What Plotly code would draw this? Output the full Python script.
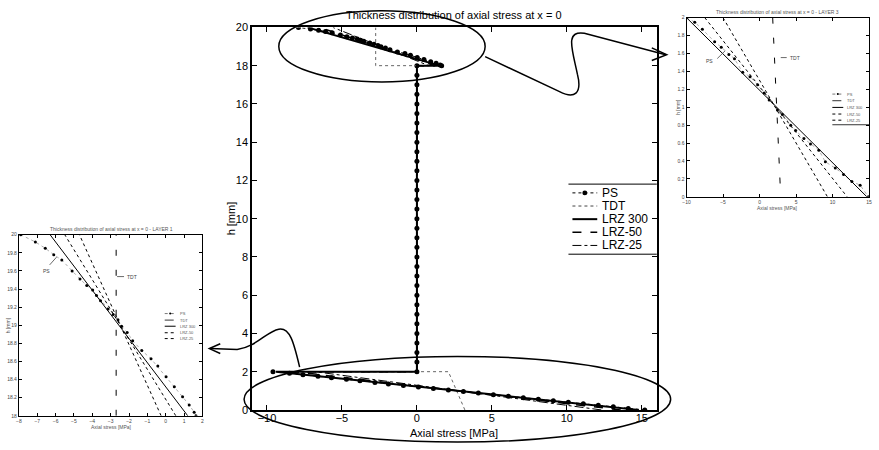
import plotly.graph_objects as go

W, H = 879, 450

# ---------------- main chart : whole section, h from 0 to 20 mm ----------------
# PS, bottom flange (h 0 -> 2)
ps_bot_h = [0.0, 0.08, 0.16, 0.24, 0.32, 0.40, 0.48, 0.56, 0.64, 0.72, 0.80, 0.88, 0.96,
            1.04, 1.12, 1.20, 1.28, 1.36, 1.44, 1.52, 1.60, 1.68, 1.76, 1.84, 1.92, 2.00]
ps_bot_s = [15.2, 14.1, 13.1, 12.1, 11.1, 10.1, 9.1, 8.1, 7.1, 6.1, 5.1, 4.1, 3.1,
            2.1, 1.1, 0.1, -0.9, -1.9, -2.8, -3.8, -4.7, -5.7, -6.6, -7.6, -8.5, -9.6]
# PS, web (h 2 -> 18)
ps_web_h = [2.0, 2.5, 3.0, 3.5, 4.0, 4.5, 5.0, 5.5, 6.0, 6.5, 7.0, 7.5, 8.0, 8.5, 9.0, 9.5, 10.0,
            10.5, 11.0, 11.5, 12.0, 12.5, 13.0, 13.5, 14.0, 14.5, 15.0, 15.5, 16.0, 16.5, 17.0, 17.5, 18.0]
ps_web_s = [0.0, 0.0, 0.0, 0.0, 0.0, 0.0, 0.0, 0.0, 0.0, 0.0, 0.0, 0.0, 0.0, 0.0, 0.0, 0.0, 0.0,
            0.0, 0.0, 0.0, 0.0, 0.0, 0.0, 0.0, 0.0, 0.0, 0.0, 0.0, 0.0, 0.0, 0.0, 0.0, 0.0]
# PS, top flange (h 18 -> 20)
ps_top_h = [18.00, 18.04, 18.12, 18.21, 18.32, 18.43, 18.55, 18.63, 18.72, 18.83, 18.92, 18.99, 19.06,
            19.12, 19.18, 19.27, 19.33, 19.39, 19.44, 19.51, 19.60, 19.72, 19.78, 19.85, 19.92, 20.00]
ps_top_s = [1.65, 1.55, 1.28, 0.92, 0.47, 0.02, -0.43, -0.80, -1.30, -1.80, -2.10, -2.40, -2.60,
            -2.86, -3.14, -3.55, -3.77, -3.98, -4.30, -4.67, -5.10, -5.66, -6.10, -6.56, -7.10, -7.90]

# other models, path bottom flange -> web -> top flange
path_h = [0.0, 2.0, 2.0, 18.0, 18.0, 20.0]
tdt_s = [3.2, 2.1, 0.0, 0.0, -2.75, -2.75]
lrz300_s = [14.8, -9.4, 0.0, 0.0, 1.5, -7.3]
lrz50_s = [13.6, -8.2, 0.0, 0.0, 1.2, -6.5]
lrz25_s = [12.3, -6.8, 0.0, 0.0, 0.8, -5.6]

# ---------------- right inset (zoom, h 0 -> 2) ----------------
r_ps_s = [-10.0, -8.87, -7.83, -6.15, -5.24, -4.2, -3.43, -2.3, -1.3, -0.26, 0.64, 1.32, 2.45,
          3.13, 4.27, 4.95, 6.08, 6.98, 8.12, 9.02, 10.38, 11.51, 12.65, 13.78, 14.9]
r_ps_h = [2.0, 1.95, 1.87, 1.73, 1.67, 1.59, 1.54, 1.39, 1.34, 1.25, 1.16, 1.08, 0.97,
          0.92, 0.80, 0.74, 0.65, 0.59, 0.52, 0.39, 0.32, 0.25, 0.17, 0.13, 0.0]
r_h = [2.0, 0.0]
r_tdt_s = [1.8, 2.9]
r_lrz300_s = [-10.0, 14.7]
r_lrz50_s = [-7.5, 12.0]
r_lrz25_s = [-5.0, 9.3]

# ---------------- left inset (zoom, h 18 -> 20) ----------------
l_h = [18.0, 20.0]
l_tdt_s = [-2.7, -2.7]
l_lrz300_s = [1.2, -6.3]
l_lrz50_s = [0.55, -5.5]
l_lrz25_s = [-0.25, -4.7]

legend_names = ["PS", "TDT", "LRZ 300", "LRZ-50", "LRZ-25"]


def px(x):
    return x / W


def py(y):
    return 1 - y / H


def path_px(cmds):
    # build an svg path in paper units from pixel points
    out = []
    for c in cmds:
        pts = c[1:]
        s = c[0]
        for i in range(0, len(pts), 2):
            s += "%.5f,%.5f " % (px(pts[i]), py(pts[i + 1]))
        out.append(s.strip())
    return " ".join(out)


fig = go.Figure()

FONT = "Liberation Sans, Arial, sans-serif"


def line(x, y, ax, dash, width, color="black", markers=False, msize=5):
    fig.add_trace(go.Scatter(
        x=x, y=y, xaxis=ax[0], yaxis=ax[1],
        mode="lines+markers" if markers else "lines",
        line=dict(color=color, dash=dash, width=width),
        marker=dict(color="black", size=msize, symbol="circle"),
        showlegend=False, hoverinfo="skip"))


main = ("x", "y")
line(ps_bot_s + ps_web_s + ps_top_s, ps_bot_h + ps_web_h + ps_top_h, main, "dot", 1, markers=True, msize=5)
line(tdt_s, path_h, main, "dot", 1, color="#666")
line(lrz300_s, path_h, main, "solid", 2)
line(lrz50_s, path_h, main, "dash", 1.5)
line(lrz25_s, path_h, main, "dashdot", 1)

rin = ("x2", "y2")
line(r_ps_s, r_ps_h, rin, "dot", 0.6, color="#777", markers=True, msize=3)
line(r_tdt_s, r_h, rin, "6px,14px", 1)
line(r_lrz300_s, r_h, rin, "solid", 1)
line(r_lrz50_s, r_h, rin, "dot", 1)
line(r_lrz25_s, r_h, rin, "dot", 1)

lin = ("x3", "y3")
line(ps_top_s, ps_top_h, lin, "dot", 0.6, color="#777", markers=True, msize=3)
line(l_tdt_s, l_h, lin, "6px,14px", 1)
line(l_lrz300_s, l_h, lin, "solid", 1)
line(l_lrz50_s, l_h, lin, "dot", 1)
line(l_lrz25_s, l_h, lin, "dot", 1)

axis_common = dict(showline=True, linecolor="black", mirror="ticks", ticks="inside",
                   showgrid=False, zeroline=False, tickcolor="black")

fig.update_layout(
    width=W, height=H,
    margin=dict(l=0, r=0, t=0, b=0),
    paper_bgcolor="white", plot_bgcolor="white",
    font=dict(family=FONT, color="black"),
    xaxis=dict(domain=[px(250), px(658)], range=[-11, 16], dtick=5, tick0=0, anchor="y",
               linewidth=1.5, ticklen=5, tickfont=dict(size=11), ticklabelstandoff=-3,
               **axis_common),
    yaxis=dict(domain=[py(415), py(22)], range=[0, 20], dtick=2, anchor="x",
               linewidth=1.5, ticklen=5, tickfont=dict(size=11), **axis_common),
    xaxis2=dict(domain=[px(688), px(872)], range=[-10, 15], dtick=5, anchor="y2",
                linewidth=1, ticklen=3, tickfont=dict(size=5, color="#444"), **axis_common),
    yaxis2=dict(domain=[py(196), py(12)], range=[0, 2], dtick=0.2, anchor="x2",
                linewidth=1, ticklen=3, tickfont=dict(size=5, color="#444"), **axis_common),
    xaxis3=dict(domain=[px(15), px(200)], range=[-8, 2], dtick=1, anchor="y3",
                linewidth=1, ticklen=3, tickfont=dict(size=5, color="#444"), **axis_common),
    yaxis3=dict(domain=[py(421), py(235)], range=[18, 20], dtick=0.2, anchor="x3",
                linewidth=1, ticklen=3, tickfont=dict(size=5, color="#444"), **axis_common),
)

shapes = []
annots = []


def text(x, y, s, size, color="black", angle=0, xanchor="center"):
    annots.append(dict(x=px(x), y=py(y), xref="paper", yref="paper", text=s, showarrow=False,
                       font=dict(size=size, color=color, family=FONT), textangle=angle,
                       xanchor=xanchor, yanchor="middle"))


def seg(x0, y0, x1, y1, dash="solid", width=1, color="black"):
    shapes.append(dict(type="line", xref="paper", yref="paper", x0=px(x0), y0=py(y0),
                       x1=px(x1), y1=py(y1), line=dict(color=color, width=width, dash=dash)))


def dot(x, y, r, color="black"):
    shapes.append(dict(type="circle", xref="paper", yref="paper", x0=px(x - r), x1=px(x + r),
                       y0=py(y + r), y1=py(y - r), fillcolor=color, line=dict(width=0)))


# main texts
text(454, 9, "Thickness distribution of axial stress at x = 0", 11)
text(454, 439, "Axial stress [MPa]", 11)
text(229, 218, "h [mm]", 11, angle=-90)

# main legend (drawn by hand)
leg_rows = [192, 205.5, 219, 232.5, 246]
leg_styles = [("dot", 1, "black"), ("dot", 1, "#444"), ("solid", 2, "black"),
              ("dash", 1.5, "black"), ("dashdot", 1, "black")]
seg(569, 183, 658, 183)
seg(569, 255, 658, 255)
for yy, name, st in zip(leg_rows, legend_names, leg_styles):
    seg(573, yy, 598, yy, dash=st[0], width=st[1], color=st[2])
    text(601, yy, name, 12, xanchor="left")
dot(585.5, leg_rows[0], 2.5)

# right inset texts and legend
text(780, 6, "Thickness distribution of axial stress at x = 0 - LAYER 3", 5, color="#555")
text(780, 208, "Axial stress [MPa]", 5, color="#555")
text(680, 104, "h [mm]", 5, color="#555", angle=-90)
text(711, 57, "PS", 5, color="#444")
seg(719, 54, 727, 46, width=0.8, color="#444")
seg(783, 53, 789, 53, width=0.8, color="#444")
text(790, 53, "TDT", 5, color="#444", xanchor="left")
r_rows = [90.5, 97.3, 104.2, 111, 117.3]
r_styles = [("dot", 0.8, "#555"), ("dash", 0.8, "black"), ("solid", 1, "black"),
            ("dot", 1, "black"), ("dot", 1, "black")]
for yy, name, st in zip(r_rows, legend_names, r_styles):
    seg(835, yy, 846, yy, dash=st[0], width=st[1], color=st[2])
    text(848, yy, name, 4, color="#555", xanchor="left")
dot(840.5, r_rows[0], 1)
seg(835, 122, 872, 122, width=0.8)

# left inset texts and legend
text(108, 229, "Thickness distribution of axial stress at x = 0 - LAYER 1", 5, color="#555")
text(108, 433, "Axial stress [MPa]", 5, color="#555")
text(4, 328, "h [mm]", 5, color="#555", angle=-90)
text(43, 272, "PS", 5, color="#444")
seg(46, 266, 53, 258, width=0.8, color="#444")
seg(114, 278, 121, 278, width=0.8, color="#444")
text(122, 278, "TDT", 5, color="#444", xanchor="left")
l_rows = [316, 322.7, 329, 335.7, 341.7]
for yy, name, st in zip(l_rows, legend_names, r_styles):
    seg(162, yy, 173, yy, dash=st[0], width=st[1], color=st[2])
    text(175, yy, name, 4, color="#555", xanchor="left")
dot(167.5, l_rows[0], 1)

# ellipses round the flanges
shapes.append(dict(type="circle", xref="paper", yref="paper", x0=px(277), x1=px(485),
                   y0=py(78), y1=py(5), line=dict(color="black", width=1.5)))
shapes.append(dict(type="circle", xref="paper", yref="paper", x0=px(242), x1=px(672),
                   y0=py(448), y1=py(360), line=dict(color="black", width=1.5)))

# curved arrows to the insets
shapes.append(dict(type="path", xref="paper", yref="paper",
                   path=path_px([("M", 485, 52), ("L", 560, 88), ("C", 575, 96, 583, 90, 578, 70),
                                 ("C", 573, 45, 565, 25, 585, 28), ("L", 667, 50)]),
                   line=dict(color="black", width=1.5)))
shapes.append(dict(type="path", xref="paper", yref="paper",
                   path=path_px([("M", 653, 43), ("L", 668, 50), ("L", 653, 56)]),
                   line=dict(color="black", width=1.5)))
shapes.append(dict(type="path", xref="paper", yref="paper",
                   path=path_px([("M", 298, 371), ("C", 292, 345, 288, 330, 277, 332),
                                 ("C", 265, 334, 255, 350, 235, 353), ("L", 208, 352)]),
                   line=dict(color="black", width=1.5)))
shapes.append(dict(type="path", xref="paper", yref="paper",
                   path=path_px([("M", 218, 347), ("L", 207, 352), ("L", 218, 357)]),
                   line=dict(color="black", width=1.5)))

fig.update_layout(shapes=shapes, annotations=annots)

# page body has a default margin, drop it so the figure sits at the window corner
fig.write_html("out.html", config={"displayModeBar": False},
               post_script="document.body.style.margin='0';")
